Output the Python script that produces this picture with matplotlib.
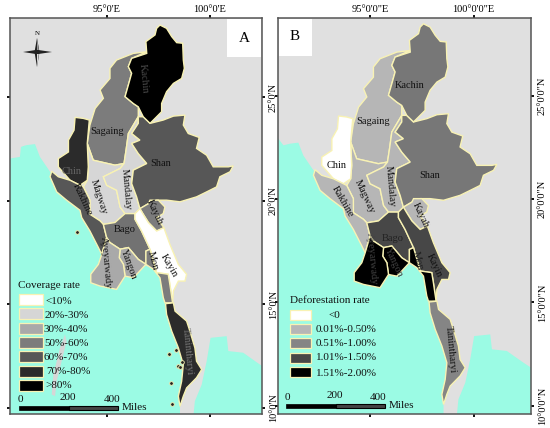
import matplotlib
matplotlib.use("Agg")
import matplotlib.pyplot as plt
from matplotlib.patches import Rectangle, Polygon

plt.rcParams['font.family'] = ['Liberation Serif', 'DejaVu Serif']

# Region outlines as (lon, lat)
KACHIN = [(97.58,28.48),(97.90,28.32),(98.15,27.92),(98.39,27.63),(98.68,27.60),(98.71,26.79),(98.76,26.39),
          (98.63,25.90),(98.23,25.66),(97.90,25.26),(97.66,24.69),(97.66,24.29),(97.42,24.05),(97.10,23.73),
          (96.77,24.05),(96.53,24.53),(96.29,24.69),(95.89,25.02),(96.05,25.58),(96.21,26.15),(96.05,26.47),
          (96.21,26.87),(96.94,27.11),(96.90,27.68),(97.34,28.00),(97.42,28.32)]
SAGAING = [(96.94,27.19),(96.29,27.11),(95.48,26.79),(95.16,26.39),(95.16,25.90),(94.68,25.34),(94.84,24.94),
           (94.44,24.45),(94.19,23.65),(94.06,22.76),(94.35,21.95),(95.40,21.71),(95.84,21.79),(95.94,22.44),
           (96.05,23.24),(96.53,24.05),(96.53,24.53),(96.29,24.69),(95.89,25.02),(96.05,25.58),(96.21,26.15),
           (96.05,26.47),(96.21,26.87)]
SHAN = [(97.10,23.73),(97.74,23.89),(98.23,24.08),(98.79,24.13),(98.71,23.65),(98.95,23.24),(99.48,23.05),
        (99.35,22.52),(99.84,22.19),(100.16,21.63),(100.89,21.63),(101.13,21.68),(100.97,21.39),(100.48,21.15),
        (100.32,20.66),(99.84,20.42),(99.35,20.18),(98.55,19.94),(97.90,20.02),(97.42,20.02),(97.02,19.85),
        (96.61,19.61),(96.45,20.18),(96.21,20.82),(96.29,21.47),(96.94,21.79),(96.53,22.27),(96.21,22.76),
        (96.61,22.92),(96.21,23.24),(96.53,23.73),(96.53,24.05),(96.77,24.05)]
CHIN = [(93.47,24.02),(93.87,23.97),(94.16,23.89),(94.06,22.76),(94.11,21.63),(94.06,20.98),(93.71,20.74),
        (93.23,20.98),(92.66,21.63),(92.66,22.03),(93.15,22.35),(93.15,22.92),(93.42,23.40)]
MAGWAY = [(94.06,22.76),(94.35,21.95),(95.40,21.71),(95.84,21.79),(95.65,21.55),(94.84,21.15),(95.00,20.74),
          (95.48,20.50),(95.65,19.69),(95.89,19.37),(95.40,18.94),(94.84,18.85),(94.68,19.02),
          (94.19,19.34),(94.19,20.02),(93.87,20.66),(94.06,20.98),(94.11,21.63)]
MANDALAY = [(95.84,21.79),(95.94,22.44),(96.05,23.24),(96.53,24.05),(96.53,23.73),(96.21,23.24),(96.61,22.92),
            (96.21,22.76),(96.53,22.27),(96.94,21.79),(96.29,21.47),(96.21,20.82),(96.45,20.18),(96.61,19.61),
            (96.37,19.37),(95.89,19.37),(95.65,19.69),(95.48,20.50),(95.00,20.74),(94.84,21.15),(95.65,21.55)]
RAKHINE = [(92.34,21.42),(92.66,21.15),(93.23,20.98),(93.71,20.74),(93.87,20.66),(94.19,20.02),(94.19,19.34),
           (94.68,19.02),(94.84,18.85),(95.00,18.21),(94.76,17.40),(94.60,17.73),(94.19,18.53),(93.79,19.18),
           (93.71,19.53),(93.06,20.02),(92.58,20.42),(92.26,21.15)]
BAGO = [(94.84,18.85),(95.40,18.94),(95.89,19.37),(96.37,19.37),(96.37,19.10),(96.69,18.53),(97.10,17.65),
        (96.90,17.56),(96.90,16.92),(96.53,17.16),(96.05,17.73),(95.65,17.65),(95.16,17.97),(95.00,18.21)]
YANGON = [(95.65,17.65),(96.05,17.73),(96.53,17.16),(96.90,16.92),(96.53,16.52),(96.29,16.27),(95.89,16.35),
          (95.81,16.92),(95.61,17.24)]
AYEYARWADY = [(94.76,17.40),(95.00,18.21),(95.16,17.97),(95.65,17.65),(95.61,17.24),(95.81,16.92),(95.89,16.35),
              (95.48,15.71),(94.68,15.87),(94.23,16.03),(94.23,16.44),(94.60,16.92)]
KAYAH = [(97.10,20.02),(97.50,20.02),(97.82,19.69),(97.74,19.37),(97.42,19.18),(97.77,18.69),(97.42,18.53),
         (97.02,18.94),(96.77,19.34),(96.61,19.61),(97.02,19.85)]
KAYIN = [(96.61,19.61),(96.77,19.34),(97.02,18.94),(97.42,18.53),(97.77,18.69),(98.06,17.89),(98.47,16.92),
         (98.87,16.44),(98.79,16.11),(98.47,16.11),(98.23,15.63),(98.19,15.06),(98.06,15.95),(97.98,16.44),
         (97.42,16.52),(97.10,17.65),(96.69,18.53),(96.37,19.10),(96.37,19.37)]
MON = [(96.90,17.56),(97.10,17.65),(97.42,16.52),(97.98,16.44),(98.06,15.95),(98.19,15.06),(97.82,15.06),
       (97.74,15.31),(97.58,16.27),(97.26,16.68),(96.90,16.92)]
TANINTHARYI = [(97.85,15.02),(98.23,15.06),(98.31,14.66),(98.87,14.18),(99.03,13.69),(99.27,12.89),(99.35,12.24),
               (99.60,11.84),(99.35,11.44),(98.87,10.95),(98.71,10.55),(98.55,10.06),(98.47,10.55),(98.63,11.27),
               (98.71,12.08),(98.47,12.89),(98.15,13.69),(97.90,14.50)]

regions = [SAGAING, MAGWAY, MANDALAY, SHAN, CHIN, RAKHINE, BAGO, YANGON, AYEYARWADY, KAYAH, KAYIN, MON,
           TANINTHARYI, KACHIN]
coverage_colors = ['#7c7c7c', '#d6d6d6', '#d6d6d6', '#575757', '#2b2b2b', '#575757', '#727272', '#a9a9a9',
                   '#a9a9a9', '#7c7c7c', '#ffffff', '#7c7c7c', '#2b2b2b', '#000000']
deforest_colors = ['#b6b6b6', '#b6b6b6', '#b6b6b6', '#777777', '#ffffff', '#b6b6b6', '#474747', '#000000',
                   '#000000', '#b6b6b6', '#474747', '#000000', '#858585', '#777777']

# Sea and neighbouring land
WEST_SEA = [(90.0,23.2),(90.56,22.92),(90.81,22.60),(91.13,22.68),(91.53,22.73),(91.77,22.11),(92.26,21.39),
            (93.0,20.8),(94.0,19.5),(95.0,18.3),(96.5,17.0),(97.8,16.5),(98.0,15.0),(98.8,12.0),(98.9,11.0),
            (98.55,10.06),(98.55,9.5),(90.0,9.5)]
EAST_SEA = [(99.19,9.5),(99.27,10.31),(99.60,11.11),(99.84,12.24),(100.03,13.37),(100.81,13.45),(100.89,12.73),
            (101.61,12.65),(102.42,12.08),(103.0,11.7),(103.0,9.5)]
ANDAMAN = [(92.98,13.53),(93.06,13.21),(92.82,12.24),(92.58,11.27),(92.50,10.55),(92.34,10.63),(92.42,11.60),
           (92.74,12.89)]
COAST_PATCH = [(90.0,23.3),(91.2,23.3),(91.0,22.65),(90.85,22.60),(90.80,22.11),(90.30,22.03),(90.0,22.03)]
island_lon = [98.00, 98.35, 98.45, 98.55, 98.65, 98.10, 98.15, 93.55]
island_lat = [12.60, 12.80, 12.00, 11.95, 12.20, 11.20, 10.15, 18.50]

lon_ticks = [95, 100]
lat_ticks = [10, 15, 20, 25]

coverage_labels = ['<10%', '20%-30%', '30%-40%', '50%-60%', '60%-70%', '70%-80%', '>80%']
coverage_legend_colors = ['#ffffff', '#d6d6d6', '#a9a9a9', '#7c7c7c', '#575757', '#2b2b2b', '#000000']
deforest_labels = ['<0', '0.01%-0.50%', '0.51%-1.00%', '1.01%-1.50%', '1.51%-2.00%']
deforest_legend_colors = ['#ffffff', '#b6b6b6', '#858585', '#474747', '#000000']

LAND = '#e0e0e0'
SEA = '#9bfbe4'
EDGE = '#f8f2b4'
W, H = 550, 428

fig = plt.figure(figsize=(5.5, 4.28), dpi=100, facecolor='white')


def draw_map(box, xlim, ylim, colors, xfmt, yfmt):
    left, top, right, bottom = box
    ax = fig.add_axes([left / W, 1 - bottom / H, (right - left) / W, (bottom - top) / H])
    ax.set_facecolor(LAND)
    ax.fill(*zip(*WEST_SEA), color=SEA, lw=0, zorder=1)
    ax.fill(*zip(*EAST_SEA), color=SEA, lw=0, zorder=1)
    for shape, c in zip(regions, colors):
        ax.add_patch(Polygon(shape, closed=True, fc=c, ec=EDGE, lw=1.0, zorder=2))
    ax.set_xlim(xlim)
    ax.set_ylim(ylim)
    ax.set_xticks(lon_ticks)
    ax.set_yticks(lat_ticks)
    ax.set_xticklabels([xfmt % v for v in lon_ticks], fontsize=7.5)
    ax.set_yticklabels([yfmt % v for v in lat_ticks], fontsize=7.5, rotation=90, va='center')
    ax.tick_params(axis='x', top=True, bottom=True, labeltop=True, labelbottom=False,
                   length=2.5, width=1.3, pad=0.5)
    ax.tick_params(axis='y', left=True, right=True, labelright=True, labelleft=False,
                   length=2.5, width=1.3, pad=2.5)
    for s in ax.spines.values():
        s.set_color('#555555')
        s.set_linewidth(1.1)
    return ax


ax_a = draw_map((10, 18, 262, 414), (90.32, 102.52), (9.69, 28.82), coverage_colors, "%d°0'E", "%d°0'N")
ax_a.fill(*zip(*COAST_PATCH), color=LAND, lw=0, zorder=1.5)
ax_a.fill(*zip(*ANDAMAN), color='#d6d6d6', lw=0, zorder=2)
ax_a.scatter(island_lon, island_lat, s=7, c='#222222', edgecolors=EDGE, linewidths=0.6, zorder=3)

ax_b = draw_map((278.3, 18, 531, 414), (90.56, 102.78), (9.6, 28.76), deforest_colors, "%d°0'0\"E", "%d°0'0\"N")

# Overlay in pixel coordinates for labels, legends and furniture
ov = fig.add_axes([0, 0, 1, 1], facecolor='none')
ov.set_xlim(0, W)
ov.set_ylim(H, 0)
ov.axis('off')

ov.add_patch(Rectangle((227, 19), 34, 38, fc='white', ec='none'))
ov.add_patch(Rectangle((279, 19), 33, 37, fc='white', ec='none'))
ov.text(244, 38, 'A', fontsize=11, ha='center', va='center')
ov.text(295, 36, 'B', fontsize=11, ha='center', va='center')

# North arrow
cx, cy = 37, 52
ov.add_patch(Polygon([(cx, cy - 14), (cx + 2.5, cy), (cx, cy + 15), (cx - 2.5, cy)], fc='#222222', ec='none'))
ov.add_patch(Polygon([(cx - 14, cy), (cx, cy - 2.2), (cx + 15, cy), (cx, cy + 2.2)], fc='#222222', ec='none'))
ov.add_patch(Polygon([(cx, cy + 15), (cx + 1.8, cy + 2), (cx, cy + 2)], fc='#dddddd', ec='none'))
ov.add_patch(Polygon([(cx, cy - 14), (cx + 1.8, cy - 2), (cx, cy - 2)], fc='#999999', ec='none'))
ov.text(37, 33, 'N', fontsize=5, ha='center', va='center')

# Region names: text, x, y, rotation, colour
names_a = [('Kachin', 144, 79, -85, '#4a4a4a'), ('Sagaing', 107, 132, 0, '#111111'), ('Shan', 161, 163, 0, '#111111'),
           ('Chin', 72, 171, 0, '#666666'), ('Magway', 99, 197, -72, '#111111'), ('Mandalay', 126, 189, -85, '#111111'),
           ('Rakhine', 82, 200, -65, '#111111'), ('Kayah', 155, 212, -65, '#111111'), ('Bago', 125, 229, 0, '#111111'),
           ('Ayeyarwady', 106, 263, -85, '#111111'), ('Yangon', 129, 264, -70, '#111111'), ('Mon', 153, 261, -75, '#111111'),
           ('Kayin', 169, 266, -60, '#111111'), ('Tanintharyi', 187, 351, -85, '#777777')]
names_b = [('Kachin', 410, 85, 0, '#111111'), ('Sagaing', 373, 121, 0, '#111111'), ('Shan', 430, 175, 0, '#111111'),
           ('Chin', 337, 166, 0, '#111111'), ('Magway', 365, 197, -65, '#111111'), ('Mandalay', 390, 186, -85, '#111111'),
           ('Rakhine', 343, 202, -60, '#111111'), ('Kayah', 421, 215, -65, '#111111'), ('Bago', 393, 238, 0, '#222222'),
           ('Ayeyarwady', 372, 259, -85, '#444444'), ('Yangon', 394, 262, -65, '#444444'), ('Mon', 418, 261, -75, '#222222'),
           ('Kayin', 434, 266, -65, '#111111'), ('Tanintharyi', 450, 349, -85, '#111111')]
for t, x, y, r, c in names_a + names_b:
    ov.text(x, y, t, fontsize=7.5, rotation=r, color=c, ha='center', va='center', rotation_mode='anchor')

# Legend A
ov.text(18, 285, 'Coverage rate', fontsize=8, color='#111111', va='center')
ya = [294, 308, 323, 337, 351, 366, 380]
xa = [46, 45, 44, 44, 44, 46, 45]
tya = [302, 316, 330, 343, 358, 372, 386]
for i, lab in enumerate(coverage_labels):
    ov.add_patch(Rectangle((18.5, ya[i]), 24, 10.5, fc=coverage_legend_colors[i], ec=EDGE, lw=0.9))
    ov.text(xa[i], tya[i], lab, fontsize=8, color='#111111', va='center')

# Legend B
ov.text(290, 300.5, 'Deforestation rate', fontsize=8, color='#111111', va='center')
yb = [310, 324, 338, 353, 367]
tyb = [315, 330, 344, 358, 373]
for i, lab in enumerate(deforest_labels):
    ov.add_patch(Rectangle((290, yb[i]), 21, 10, fc=deforest_legend_colors[i], ec=EDGE, lw=0.9))
    if i == 0:
        ov.text(334, tyb[i], lab, fontsize=8, color='#111111', va='center', ha='center')
    else:
        ov.text(316, tyb[i], lab, fontsize=8, color='#111111', va='center')

# Scale bars
for x0, y0, tx, ty in [(18.5, 405.5, (20, 68, 112), (399, 398, 400)), (285.5, 403.5, (287, 335, 378), (397, 395.5, 397.5))]:
    ov.add_patch(Rectangle((x0, y0), 50, 4.5, fc='black', ec='black', lw=0.5))
    ov.add_patch(Rectangle((x0 + 50, y0), 49, 4.5, fc='#444444', ec='black', lw=0.8))
    for v, x, y in zip(['0', '200', '400'], tx, ty):
        ov.text(x, y, v, fontsize=8, color='#111111', ha='center', va='center')
    ov.text(x0 + 103, y0 + 2, 'Miles', fontsize=8, color='#111111', va='center')

fig.savefig('out.png', dpi=100)
